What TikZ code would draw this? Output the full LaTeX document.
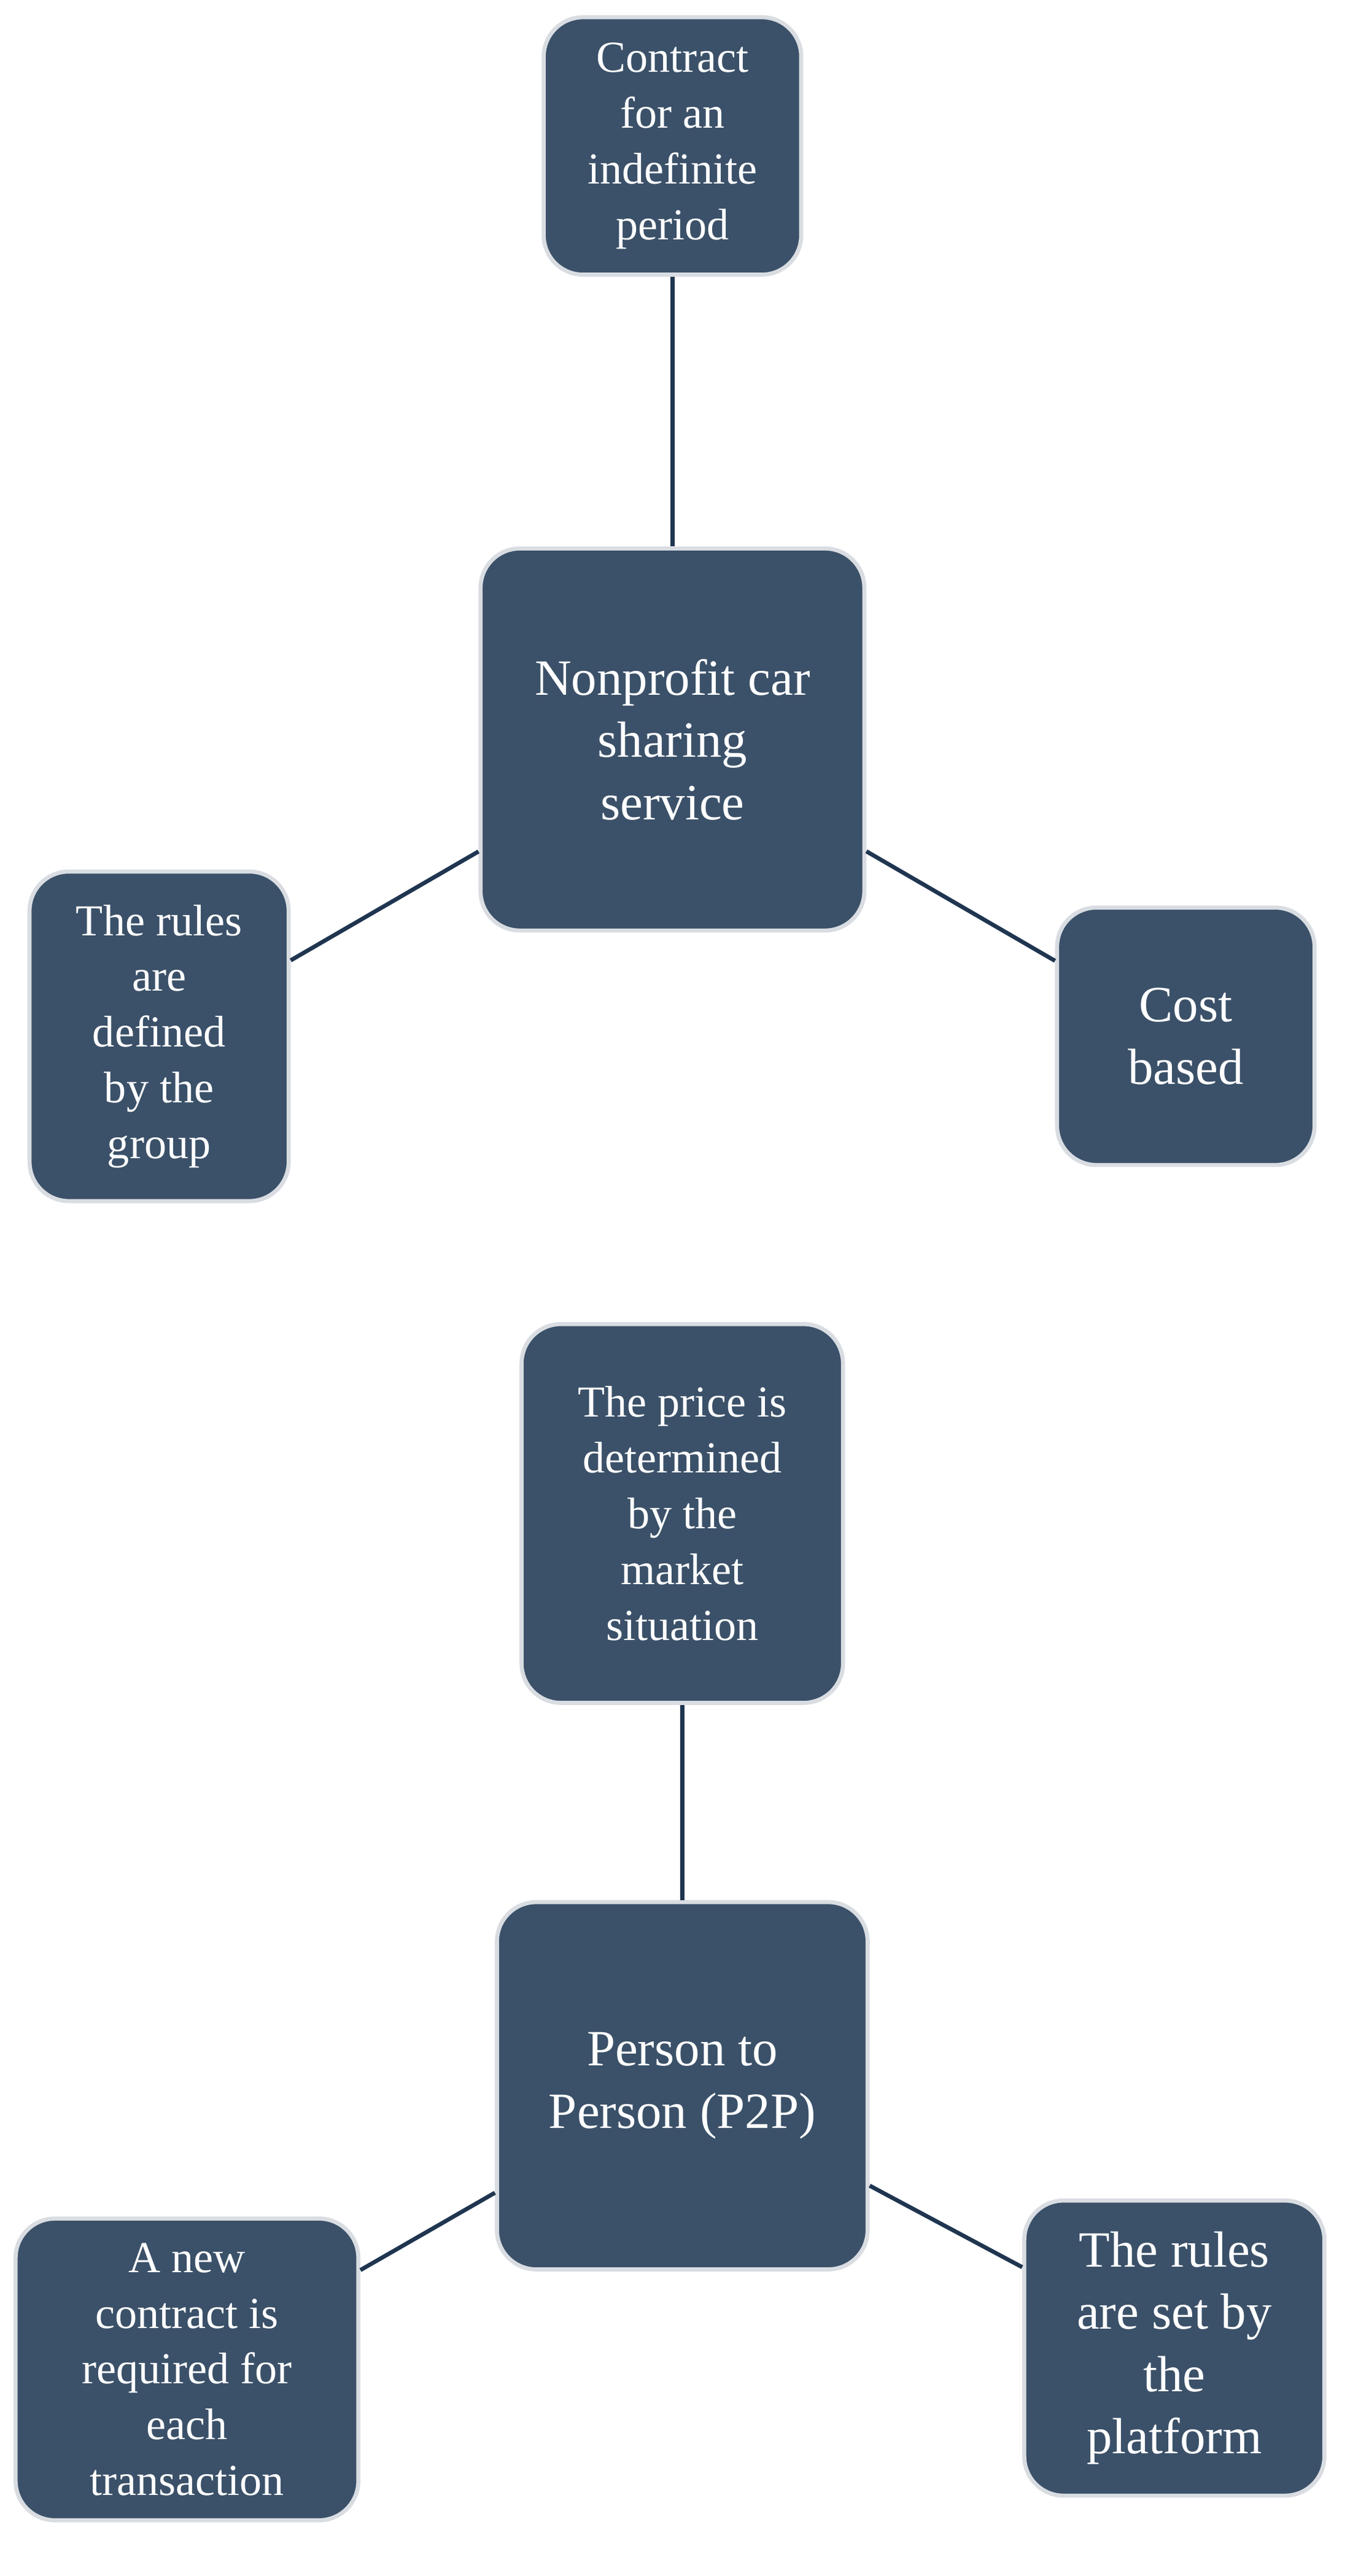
\documentclass[tikz,border=0pt]{standalone}
\usepackage{fontspec}
\setmainfont{Liberation Serif}
\definecolor{boxfill}{HTML}{3B5169}
\definecolor{boxedge}{HTML}{D9DDE2}
\definecolor{linkc}{HTML}{1F3550}
\begin{document}
\begin{tikzpicture}[x=1pt,y=-1pt,
  box/.style={draw=boxedge,line width=2.5pt,fill=boxfill,rounded corners=24pt,text=white,align=center,inner sep=0pt,font=\fontsize{27}{34}\selectfont},
  big/.style={box,font=\fontsize{31}{38}\selectfont},
  link/.style={draw=linkc,line width=2.5pt}]
\useasboundingbox (0,0) rectangle (823,1571);
\node[box,minimum width=157pt,minimum height=157pt] (a) at (410,89) {Contract\\for an\\indefinite\\period};
\node[big,minimum width=234pt,minimum height=233pt] (b) at (410,451) {Nonprofit car\\sharing\\service};
\node[box,minimum width=158pt,minimum height=201pt] (c) at (97,632) {The rules\\are\\defined\\by the\\group};
\node[big,minimum width=157pt,minimum height=157pt] (d) at (723,632) {Cost\\based};
\node[box,minimum width=196pt,minimum height=231pt] (e) at (416,923) {The price is\\determined\\by the\\market\\situation};
\node[big,minimum width=226pt,minimum height=224pt] (f) at (416,1272) {Person to\\Person (P2P)};
\node[box,minimum width=209pt,minimum height=184pt] (g) at (114,1445) {A new\\contract is\\required for\\each\\transaction};
\node[big,minimum width=183pt,minimum height=180pt] (h) at (716,1432) {The rules\\are set by\\the\\platform};
\draw[link] (a) -- (b);
\draw[link] (b) -- (c);
\draw[link] (b) -- (d);
\draw[link] (e) -- (f);
\draw[link] (f) -- (g);
\draw[link] (f) -- (h);
\end{tikzpicture}
\end{document}
